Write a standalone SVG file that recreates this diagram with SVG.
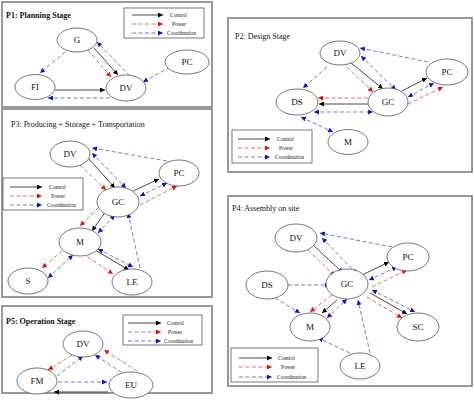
<svg xmlns="http://www.w3.org/2000/svg" width="474" height="404" viewBox="0 0 474 404">
<defs>
<marker id="mk" markerUnits="userSpaceOnUse" markerWidth="6" markerHeight="5" refX="5" refY="2.5" orient="auto-start-reverse"><path d="M0,0 L5,2.5 L0,5 Z" fill="#000"/></marker>
<marker id="mr" markerUnits="userSpaceOnUse" markerWidth="6" markerHeight="5" refX="5" refY="2.5" orient="auto-start-reverse"><path d="M0,0 L5,2.5 L0,5 Z" fill="#e01010"/></marker>
<marker id="mb" markerUnits="userSpaceOnUse" markerWidth="6" markerHeight="5" refX="5" refY="2.5" orient="auto-start-reverse"><path d="M0,0 L5,2.5 L0,5 Z" fill="#1010d0"/></marker>
</defs>
<style>
.panel{fill:#fff;stroke:#808080;stroke-width:1.6}
.lg{fill:#fff;stroke:#555;stroke-width:0.8}
.nd{fill:#fff;stroke:#555;stroke-width:0.8}
.nt{font-family:"Liberation Serif",serif;font-size:9px;fill:#111;text-anchor:middle;dominant-baseline:central}
.tt{font-family:"Liberation Serif",serif;font-size:8px;fill:#111}
.tb{font-weight:bold}
.lt{font-family:"Liberation Serif",serif;font-size:5.5px;fill:#111}
.c{stroke:#333;stroke-width:0.9;fill:none;marker-end:url(#mk)}
.p{stroke:#e06060;stroke-width:0.9;stroke-dasharray:4 2.5;fill:none;marker-end:url(#mr)}
.o{stroke:#6070c8;stroke-width:0.9;stroke-dasharray:4 2.5;fill:none;marker-end:url(#mb)}
.ob{stroke:#6070c8;stroke-width:0.9;stroke-dasharray:4 2.5;fill:none;marker-end:url(#mb);marker-start:url(#mb)}
</style>
<rect width="474" height="404" fill="#fff"/>

<!-- P1 -->
<g id="panel-p1">
<rect class="panel" x="2" y="2" width="210" height="105"/>
<text class="tt tb" x="6" y="18">P1: Planning Stage</text>
<g id="p1-legend">
<rect class="lg" x="124" y="8" width="80" height="30"/>
<line class="c" x1="132" y1="15" x2="163" y2="15"/>
<line class="p" x1="132" y1="24" x2="163" y2="24"/>
<line class="o" x1="132" y1="33" x2="163" y2="33"/>
<text class="lt" x="170" y="17">Control</text>
<text class="lt" x="172" y="26">Power</text>
<text class="lt" x="167" y="35">Coordination</text>
</g>
</g>
<g id="p1-connectors">
<line class="c" x1="94" y1="48" x2="118" y2="75"/>
<line class="p" x1="88" y1="50" x2="111" y2="77"/>
<line class="o" x1="130" y1="76" x2="97" y2="42"/>
<line class="o" x1="65" y1="52" x2="40" y2="73"/>
<line class="c" x1="55" y1="90" x2="105" y2="90"/>
<line class="o" x1="110" y1="98" x2="48" y2="98"/>
<line class="o" x1="170" y1="67" x2="143" y2="82"/>
</g>
<g id="p1-G"><ellipse class="nd" cx="77" cy="40" rx="20" ry="12"/><text class="nt" x="77" y="40">G</text></g>
<g id="p1-FI"><ellipse class="nd" cx="35" cy="87" rx="20" ry="12.5"/><text class="nt" x="35" y="87">FI</text></g>
<g id="p1-DV"><ellipse class="nd" cx="126" cy="88" rx="20" ry="13"/><text class="nt" x="126" y="88">DV</text></g>
<g id="p1-PC"><ellipse class="nd" cx="187" cy="62" rx="22" ry="12"/><text class="nt" x="187" y="62">PC</text></g>

<!-- P2 -->
<g id="panel-p2">
<rect class="panel" x="228" y="18" width="244" height="154"/>
<text class="tt" x="235" y="39">P2: Design Stage</text>
<g id="p2-legend">
<rect class="lg" x="232" y="130" width="80" height="33"/>
<line class="c" x1="238" y1="139" x2="270" y2="139"/>
<line class="p" x1="238" y1="148" x2="270" y2="148"/>
<line class="o" x1="238" y1="157" x2="270" y2="157"/>
<text class="lt" x="277" y="141">Control</text>
<text class="lt" x="279" y="150">Power</text>
<text class="lt" x="275" y="159">Coordination</text>
</g>
</g>
<g id="p2-connectors">
<line class="c" x1="350" y1="62" x2="383" y2="89"/>
<line class="p" x1="347" y1="67" x2="373" y2="92"/>
<line class="ob" x1="361" y1="56" x2="396" y2="90"/>
<line class="o" x1="428" y1="62" x2="360" y2="48"/>
<line class="o" x1="327" y1="67" x2="303" y2="88"/>
<line class="c" x1="402" y1="91" x2="427" y2="78"/>
<line class="ob" x1="408" y1="97" x2="434" y2="83"/>
<line class="p" x1="408" y1="104" x2="443" y2="87"/>
<line class="p" x1="368" y1="98" x2="318" y2="98"/>
<line class="c" x1="368" y1="104" x2="319" y2="104"/>
<line class="ob" x1="314" y1="112" x2="373" y2="112"/>
<line class="ob" x1="301" y1="117" x2="333" y2="132"/>
</g>
<g id="p2-DV"><ellipse class="nd" cx="340" cy="53" rx="20" ry="12"/><text class="nt" x="340" y="53">DV</text></g>
<g id="p2-PC"><ellipse class="nd" cx="447" cy="72" rx="21" ry="13"/><text class="nt" x="447" y="72">PC</text></g>
<g id="p2-DS"><ellipse class="nd" cx="297" cy="102" rx="21" ry="13"/><text class="nt" x="297" y="102">DS</text></g>
<g id="p2-GC"><ellipse class="nd" cx="388" cy="102" rx="20" ry="14"/><text class="nt" x="388" y="102">GC</text></g>
<g id="p2-M"><ellipse class="nd" cx="348" cy="142" rx="20" ry="12.5"/><text class="nt" x="348" y="142">M</text></g>

<!-- P3 -->
<g id="panel-p3">
<rect class="panel" x="2" y="109" width="210" height="188"/>
<text class="tt" x="11" y="127">P3: Producing + Storage + Transportation</text>
</g>
<g id="p3-connectors">
<line class="c" x1="88" y1="158" x2="115" y2="188"/>
<line class="p" x1="80" y1="165" x2="106" y2="190"/>
<line class="ob" x1="92" y1="153" x2="126" y2="188"/>
<line class="o" x1="167" y1="161" x2="92" y2="148"/>
<line class="c" x1="133" y1="191" x2="159" y2="179"/>
<line class="ob" x1="140" y1="196" x2="167" y2="183"/>
<line class="p" x1="140" y1="205" x2="177" y2="186"/>
<line class="p" x1="103" y1="203" x2="80" y2="226"/>
<line class="c" x1="108" y1="208" x2="92" y2="231"/>
<line class="ob" x1="98" y1="233" x2="115" y2="215"/>
<line class="o" x1="140" y1="268" x2="128" y2="213"/>
<line class="p" x1="62" y1="251" x2="42" y2="268"/>
<line class="ob" x1="48" y1="278" x2="73" y2="255"/>
<line class="c" x1="95" y1="250" x2="129" y2="270"/>
<line class="p" x1="82" y1="253" x2="113" y2="274"/>
<line class="ob" x1="98" y1="249" x2="133" y2="267"/>
</g>
<g id="p3-legend">
<rect class="lg" x="3" y="178" width="80" height="32"/>
<line class="c" x1="10" y1="187" x2="42" y2="187"/>
<line class="p" x1="10" y1="196" x2="42" y2="196"/>
<line class="o" x1="10" y1="205" x2="42" y2="205"/>
<text class="lt" x="49" y="189">Control</text>
<text class="lt" x="51" y="198">Power</text>
<text class="lt" x="47" y="207">Coordination</text>
</g>
<g id="p3-DV"><ellipse class="nd" cx="70" cy="154" rx="20" ry="13"/><text class="nt" x="70" y="154">DV</text></g>
<g id="p3-PC"><ellipse class="nd" cx="179" cy="173" rx="20" ry="13"/><text class="nt" x="179" y="173">PC</text></g>
<g id="p3-GC"><ellipse class="nd" cx="118" cy="202" rx="21" ry="15"/><text class="nt" x="118" y="202">GC</text></g>
<g id="p3-M"><ellipse class="nd" cx="80" cy="242" rx="21" ry="14"/><text class="nt" x="80" y="242">M</text></g>
<g id="p3-S"><ellipse class="nd" cx="28" cy="281" rx="20" ry="13"/><text class="nt" x="28" y="281">S</text></g>
<g id="p3-LE"><ellipse class="nd" cx="132" cy="282" rx="20" ry="13"/><text class="nt" x="132" y="282">LE</text></g>

<!-- P4 -->
<g id="panel-p4">
<rect class="panel" x="228" y="196" width="244" height="190"/>
<text class="tt" x="232" y="211">P4: Assembly on site</text>
<g id="p4-legend">
<rect class="lg" x="231" y="348" width="87" height="34"/>
<line class="c" x1="239" y1="358" x2="272" y2="358"/>
<line class="p" x1="239" y1="367" x2="272" y2="367"/>
<line class="o" x1="239" y1="377" x2="272" y2="377"/>
<text class="lt" x="278" y="360">Control</text>
<text class="lt" x="281" y="369">Power</text>
<text class="lt" x="277" y="379">Coordination</text>
</g>
</g>
<g id="p4-connectors">
<line class="c" x1="311" y1="243" x2="343" y2="273"/>
<line class="p" x1="308" y1="250" x2="335" y2="276"/>
<line class="ob" x1="322" y1="238" x2="357" y2="274"/>
<line class="o" x1="392" y1="247" x2="320" y2="233"/>
<line class="c" x1="362" y1="275" x2="389" y2="262"/>
<line class="ob" x1="369" y1="280" x2="397" y2="267"/>
<line class="p" x1="372" y1="287" x2="407" y2="270"/>
<line class="o" x1="288" y1="285" x2="330" y2="285"/>
<line class="o" x1="275" y1="298" x2="300" y2="313"/>
<line class="p" x1="332" y1="295" x2="310" y2="312"/>
<line class="c" x1="337" y1="300" x2="322" y2="313"/>
<line class="ob" x1="327" y1="318" x2="347" y2="299"/>
<line class="c" x1="370" y1="293" x2="407" y2="314"/>
<line class="p" x1="367" y1="297" x2="402" y2="318"/>
<line class="ob" x1="372" y1="290" x2="415" y2="312"/>
<line class="o" x1="350" y1="353" x2="318" y2="338"/>
<line class="o" x1="370" y1="353" x2="358" y2="300"/>
</g>
<g id="p4-DV"><ellipse class="nd" cx="296" cy="238" rx="21" ry="14"/><text class="nt" x="296" y="238">DV</text></g>
<g id="p4-PC"><ellipse class="nd" cx="408" cy="257" rx="21" ry="14"/><text class="nt" x="408" y="257">PC</text></g>
<g id="p4-DS"><ellipse class="nd" cx="267" cy="285" rx="21" ry="14"/><text class="nt" x="267" y="285">DS</text></g>
<g id="p4-GC"><ellipse class="nd" cx="347" cy="284" rx="21" ry="15"/><text class="nt" x="347" y="284">GC</text></g>
<g id="p4-M"><ellipse class="nd" cx="310" cy="327" rx="20" ry="14"/><text class="nt" x="310" y="327">M</text></g>
<g id="p4-SC"><ellipse class="nd" cx="418" cy="327" rx="21" ry="14"/><text class="nt" x="418" y="327">SC</text></g>
<g id="p4-LE"><ellipse class="nd" cx="360" cy="366" rx="20" ry="13"/><text class="nt" x="360" y="366">LE</text></g>

<!-- P5 -->
<g id="panel-p5">
<rect class="panel" x="2" y="306" width="210" height="87"/>
<text class="tt tb" x="6" y="324">P5: Operation Stage</text>
<g id="p5-legend">
<rect class="lg" x="123" y="315" width="79" height="30"/>
<line class="c" x1="128" y1="323" x2="161" y2="323"/>
<line class="p" x1="128" y1="332" x2="161" y2="332"/>
<line class="o" x1="128" y1="341" x2="161" y2="341"/>
<text class="lt" x="167" y="325">Control</text>
<text class="lt" x="168" y="334">Power</text>
<text class="lt" x="164" y="343">Coordination</text>
</g>
</g>
<g id="p5-connectors">
<line class="p" x1="72" y1="355" x2="48" y2="370"/>
<line class="o" x1="57" y1="376" x2="83" y2="356"/>
<line class="o" x1="127" y1="376" x2="95" y2="355"/>
<line class="p" x1="137" y1="371" x2="104" y2="350"/>
<line class="o" x1="58" y1="382" x2="107" y2="382"/>
<line class="c" x1="108" y1="392" x2="54" y2="392"/>
</g>
<g id="p5-DV"><ellipse class="nd" cx="83" cy="344" rx="20" ry="13"/><text class="nt" x="83" y="344">DV</text></g>
<g id="p5-FM"><ellipse class="nd" cx="37" cy="381" rx="20" ry="13"/><text class="nt" x="37" y="381">FM</text></g>
<g id="p5-EU"><ellipse class="nd" cx="131" cy="385" rx="22" ry="13"/><text class="nt" x="131" y="385">EU</text></g>
</svg>
